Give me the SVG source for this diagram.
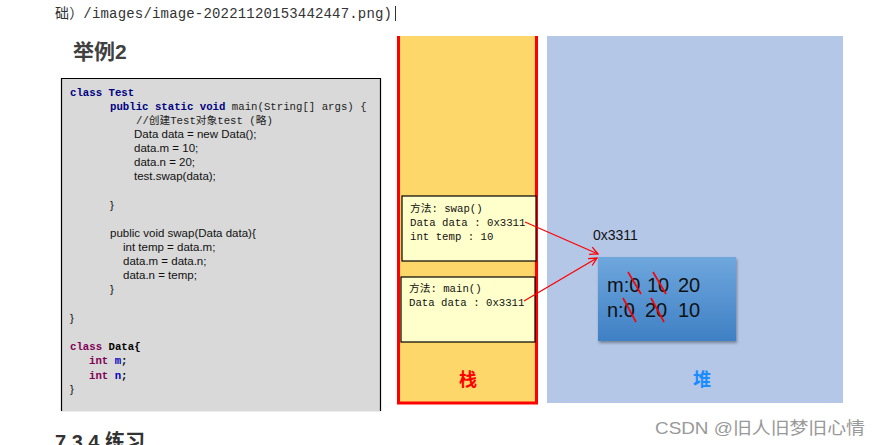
<svg xmlns="http://www.w3.org/2000/svg" width="881" height="445" viewBox="0 0 881 445">
<style>
.mono{font-family:"Liberation Mono","DejaVu Sans Mono","Noto Sans CJK SC",monospace;font-size:10.7px;fill:#222}
.ar{font-family:"Liberation Sans",Arial,"Noto Sans CJK SC",sans-serif;font-size:11.5px;fill:#111}
.kw{font-weight:bold;fill:#000080}
.kp{font-weight:bold;fill:#7f0055}
.fld{font-weight:bold;fill:#0000c0}
.frame{fill:#ffffcc;stroke:#000;stroke-width:1.2}
.fr{font-family:"Liberation Mono","DejaVu Sans Mono","Noto Sans CJK SC",monospace;font-size:10.7px;fill:#111}
.big{font-family:"Liberation Sans",Arial,sans-serif;font-size:20px;fill:#111}
.strike{stroke:#ff0000;stroke-width:1.6}
.conn{stroke:#ff0000;stroke-width:1.3;fill:none}
</style>
<defs>
<marker id="ah" markerWidth="10" markerHeight="10" refX="9" refY="5" orient="auto" markerUnits="userSpaceOnUse">
<path d="M1,1 L9,5 L1,9" fill="none" stroke="#ff0000" stroke-width="1.3"/>
</marker>
<linearGradient id="obj" x1="0" y1="0" x2="0" y2="1">
<stop offset="0" stop-color="#6fa7de"/>
<stop offset="1" stop-color="#3f80c4"/>
</linearGradient>
<filter id="sh" x="-10%" y="-10%" width="125%" height="130%">
<feDropShadow dx="1" dy="2" stdDeviation="1.5" flood-color="#000" flood-opacity="0.35"/>
</filter>
</defs>
<rect width="881" height="445" fill="#fff"/>
<text x="55" y="18" textLength="337" lengthAdjust="spacing" font-family="'Liberation Mono','DejaVu Sans Mono','Noto Sans CJK SC',monospace" font-size="14" fill="#333">础）/images/image-20221120153442447.png)</text>
<text x="73" y="59" font-family="'Liberation Sans','Noto Sans CJK SC',sans-serif" font-size="21" font-weight="bold" fill="#404040">举例2</text>

<g id="code">
<rect x="61.5" y="78.5" width="319" height="333" fill="#d9d9d9"/>
<path d="M61.5,411 V78.5 H380.5 V411" fill="none" stroke="#000" stroke-width="1.2"/>
<text class="mono" x="70" y="96"><tspan class="kw">class Test</tspan></text>
<text class="mono" x="110" y="110"><tspan class="kw">public static void</tspan> main(String[] args) {</text>
<text class="mono" x="136" y="124">//创建Test对象test (略)</text>
<text class="ar" x="134" y="138">Data data = new Data();</text>
<text class="ar" x="134" y="152">data.m = 10;</text>
<text class="ar" x="134" y="166">data.n = 20;</text>
<text class="ar" x="134" y="180">test.swap(data);</text>
<text class="ar" x="110" y="209">}</text>
<text class="ar" x="110" y="237">public void swap(Data data){</text>
<text class="ar" x="123" y="251">int temp = data.m;</text>
<text class="ar" x="123" y="265">data.m = data.n;</text>
<text class="ar" x="123" y="279">data.n = temp;</text>
<text class="ar" x="110" y="293">}</text>
<text class="ar" x="70" y="322">}</text>
<text class="mono" x="70" y="350"><tspan class="kp">class</tspan> <tspan font-weight="bold" fill="#000">Data{</tspan></text>
<text class="mono" x="89" y="364"><tspan class="kp">int</tspan> <tspan class="fld">m</tspan><tspan font-weight="bold" fill="#000">;</tspan></text>
<text class="mono" x="89" y="379"><tspan class="kp">int</tspan> <tspan class="fld">n</tspan><tspan font-weight="bold" fill="#000">;</tspan></text>
<text class="ar" x="70" y="393">}</text>
</g>

<g id="stack">
<rect x="398.5" y="30" width="138" height="373" fill="#fdd76a" stroke="#ff0000" stroke-width="3"/>
<text x="468" y="386" text-anchor="middle" font-family="'Noto Sans CJK SC',sans-serif" font-size="18" font-weight="bold" fill="#ff0000">栈</text>
</g>
<rect x="393" y="0" width="150" height="36" fill="#fff"/>
<line x1="395.5" y1="6" x2="395.5" y2="21" stroke="#333" stroke-width="1"/>

<g id="heap">
<rect x="547" y="36" width="296" height="367" fill="#b4c7e7"/>
<text x="702" y="386" text-anchor="middle" font-family="'Noto Sans CJK SC',sans-serif" font-size="18" font-weight="bold" fill="#1a8cff">堆</text>
</g>

<g id="swap-frame">
<rect class="frame" x="402" y="196" width="134" height="65"/>
<text class="fr" x="410" y="212">方法: swap()</text>
<text class="fr" x="410" y="226">Data data : 0x3311</text>
<text class="fr" x="410" y="240">int temp : 10</text>
</g>

<g id="main-frame">
<rect class="frame" x="401" y="277" width="134" height="65"/>
<text class="fr" x="409" y="292">方法: main()</text>
<text class="fr" x="409" y="306">Data data : 0x3311</text>
</g>

<g id="data-object">
<text x="593" y="240" font-family="'Liberation Sans',Arial,sans-serif" font-size="14" fill="#111">0x3311</text>
<rect x="598" y="257" width="138" height="84" fill="url(#obj)" filter="url(#sh)"/>
<text class="big" y="292"><tspan x="607">m:0</tspan><tspan x="647">10</tspan><tspan x="678">20</tspan></text>
<text class="big" y="317"><tspan x="607">n:0</tspan><tspan x="645">20</tspan><tspan x="678">10</tspan></text>
<line class="strike" x1="628" y1="272" x2="641" y2="294"/>
<line class="strike" x1="653" y1="272" x2="666" y2="294"/>
<line class="strike" x1="623" y1="298" x2="636" y2="322"/>
<line class="strike" x1="651" y1="298" x2="664" y2="322"/>
</g>

<g id="connectors">
<line class="conn" x1="525" y1="222" x2="598" y2="254" marker-end="url(#ah)"/>
<line class="conn" x1="524" y1="301" x2="597" y2="258" marker-end="url(#ah)"/>
</g>

<text x="655" y="434" textLength="210" lengthAdjust="spacingAndGlyphs" font-family="'Liberation Sans','Noto Sans CJK SC',sans-serif" font-size="17" fill="#999">CSDN @旧人旧梦旧心情</text>
<text x="55" y="449" font-family="'Liberation Sans','Noto Sans CJK SC',sans-serif" font-size="20" font-weight="bold" fill="#333">7.3.4 练习</text>
</svg>
